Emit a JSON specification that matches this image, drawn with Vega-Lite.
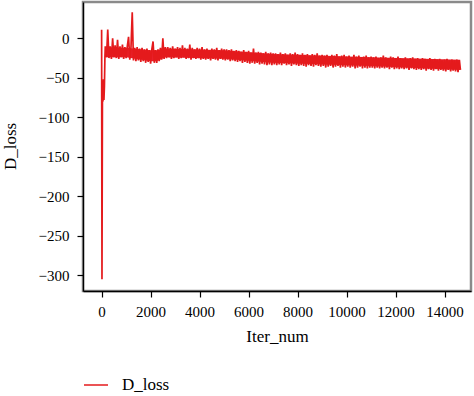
{
  "$schema": "https://vega.github.io/schema/vega-lite/v6.json",
  "autosize": "none",
  "width": 388,
  "height": 289,
  "padding": {"left": 83, "top": 2, "right": 3, "bottom": 105},
  "background": "white",
  "view": {"stroke": "#8a8a8a", "strokeWidth": 2.5, "fill": "white"},
  "config": {
    "font": "Liberation Serif",
    "view": {"stroke": "#8a8a8a", "strokeWidth": 2.5},
    "axis": {
      "grid": false,
      "domainColor": "black",
      "domainWidth": 1.3,
      "tickColor": "black",
      "tickWidth": 1.2,
      "tickSize": 6,
      "labelFont": "Liberation Serif",
      "labelFontSize": 15,
      "labelColor": "black",
      "titleFont": "Liberation Serif",
      "titleFontSize": 17,
      "titleFontWeight": "normal",
      "titleColor": "black"
    },
    "legend": {
      "labelFont": "Liberation Serif",
      "labelFontSize": 17,
      "labelColor": "black"
    }
  },
  "datasets": {
    "band": [
      {"i": 160, "lo": -24, "hi": -12},
      {"i": 1000, "lo": -24, "hi": -12},
      {"i": 2000, "lo": -29, "hi": -15},
      {"i": 2250, "lo": -29, "hi": -15},
      {"i": 2600, "lo": -24, "hi": -13},
      {"i": 5000, "lo": -26, "hi": -15},
      {"i": 7000, "lo": -31, "hi": -20},
      {"i": 11000, "lo": -35, "hi": -24},
      {"i": 14640, "lo": -40, "hi": -27}
    ],
    "loss": [
      {"i": 0, "v": 11}, {"i": 15, "v": -305}, {"i": 35, "v": -55}, {"i": 55, "v": -80}, {"i": 75, "v": -52}, {"i": 95, "v": -78}, {"i": 115, "v": -60}, {"i": 135, "v": -24},
      {"i": 150, "v": -10}, {"i": 200, "v": -24}, {"i": 250, "v": 11}, {"i": 300, "v": -25}, {"i": 350, "v": -10}, {"i": 400, "v": -26}, {"i": 450, "v": 0}, {"i": 500, "v": -24}, {"i": 550, "v": -9}, {"i": 600, "v": -25}, {"i": 650, "v": -2}, {"i": 700, "v": -26}, {"i": 750, "v": -10}, {"i": 800, "v": -24}, {"i": 850, "v": -8}, {"i": 900, "v": -26}, {"i": 950, "v": -11}, {"i": 1000, "v": -25},
      {"i": 1050, "v": -10}, {"i": 1100, "v": 2}, {"i": 1150, "v": -27}, {"i": 1200, "v": -11}, {"i": 1250, "v": 33}, {"i": 1300, "v": -28}, {"i": 1350, "v": -12}, {"i": 1400, "v": -29}, {"i": 1450, "v": -11}, {"i": 1500, "v": -28}, {"i": 1550, "v": -13}, {"i": 1600, "v": -30}, {"i": 1650, "v": -12}, {"i": 1700, "v": -29}, {"i": 1750, "v": -14}, {"i": 1800, "v": -31}, {"i": 1850, "v": -13}, {"i": 1900, "v": -30}, {"i": 1950, "v": -15}, {"i": 2000, "v": -32}, {"i": 2050, "v": -14}, {"i": 2100, "v": -4}, {"i": 2150, "v": -31}, {"i": 2200, "v": -15},
      {"i": 2250, "v": -31}, {"i": 2300, "v": -14}, {"i": 2350, "v": -29}, {"i": 2400, "v": -12}, {"i": 2450, "v": -27}, {"i": 2500, "v": 0}, {"i": 2550, "v": -26}, {"i": 2600, "v": -11},
      {"i": 2650, "v": -25}, {"i": 2700, "v": -11}, {"i": 2750, "v": -24}, {"i": 2800, "v": -12}, {"i": 2850, "v": -26}, {"i": 2900, "v": -10}, {"i": 2950, "v": -25}, {"i": 3000, "v": -13}, {"i": 3050, "v": -24}, {"i": 3100, "v": -11}, {"i": 3150, "v": -26}, {"i": 3200, "v": -12}, {"i": 3250, "v": -25}, {"i": 3300, "v": -9}, {"i": 3350, "v": -24}, {"i": 3400, "v": -12}, {"i": 3450, "v": -26}, {"i": 3500, "v": -13}, {"i": 3550, "v": -25}, {"i": 3600, "v": -8}, {"i": 3650, "v": -27}, {"i": 3700, "v": -12}, {"i": 3750, "v": -25}, {"i": 3800, "v": -14}, {"i": 3850, "v": -26}, {"i": 3900, "v": -12}, {"i": 3950, "v": -25}, {"i": 4000, "v": -13}, {"i": 4050, "v": -27}, {"i": 4100, "v": -11}, {"i": 4150, "v": -26}, {"i": 4200, "v": -14}, {"i": 4250, "v": -27}, {"i": 4300, "v": -13}, {"i": 4350, "v": -26}, {"i": 4400, "v": -15}, {"i": 4450, "v": -28}, {"i": 4500, "v": -13}, {"i": 4550, "v": -26}, {"i": 4600, "v": -14}, {"i": 4650, "v": -27}, {"i": 4700, "v": -12}, {"i": 4750, "v": -28}, {"i": 4800, "v": -15}, {"i": 4850, "v": -26}, {"i": 4900, "v": -13}, {"i": 4950, "v": -27}, {"i": 5000, "v": -14},
      {"i": 5050, "v": -28}, {"i": 5100, "v": -14}, {"i": 5150, "v": -27}, {"i": 5200, "v": -15}, {"i": 5250, "v": -29}, {"i": 5300, "v": -14}, {"i": 5350, "v": -28}, {"i": 5400, "v": -16}, {"i": 5450, "v": -29}, {"i": 5500, "v": -15}, {"i": 5550, "v": -30}, {"i": 5600, "v": -16}, {"i": 5650, "v": -29}, {"i": 5700, "v": -17}, {"i": 5750, "v": -31}, {"i": 5800, "v": -15}, {"i": 5850, "v": -30}, {"i": 5900, "v": -17}, {"i": 5950, "v": -31}, {"i": 6000, "v": -16}, {"i": 6050, "v": -32}, {"i": 6100, "v": -18}, {"i": 6150, "v": -31}, {"i": 6200, "v": -13}, {"i": 6250, "v": -32}, {"i": 6300, "v": -18}, {"i": 6350, "v": -31}, {"i": 6400, "v": -17}, {"i": 6450, "v": -33}, {"i": 6500, "v": -18}, {"i": 6550, "v": -32}, {"i": 6600, "v": -19}, {"i": 6650, "v": -33}, {"i": 6700, "v": -17}, {"i": 6750, "v": -34}, {"i": 6800, "v": -19}, {"i": 6850, "v": -33}, {"i": 6900, "v": -18}, {"i": 6950, "v": -34}, {"i": 7000, "v": -19},
      {"i": 7050, "v": -33}, {"i": 7100, "v": -19}, {"i": 7150, "v": -34}, {"i": 7200, "v": -20}, {"i": 7250, "v": -33}, {"i": 7300, "v": -18}, {"i": 7350, "v": -34}, {"i": 7400, "v": -20}, {"i": 7450, "v": -32}, {"i": 7500, "v": -19}, {"i": 7550, "v": -34}, {"i": 7600, "v": -21}, {"i": 7650, "v": -33}, {"i": 7700, "v": -19}, {"i": 7750, "v": -35}, {"i": 7800, "v": -20}, {"i": 7850, "v": -33}, {"i": 7900, "v": -18}, {"i": 7950, "v": -34}, {"i": 8000, "v": -20},
      {"i": 8050, "v": -35}, {"i": 8100, "v": -21}, {"i": 8150, "v": -34}, {"i": 8200, "v": -19}, {"i": 8250, "v": -35}, {"i": 8300, "v": -21}, {"i": 8350, "v": -36}, {"i": 8400, "v": -20}, {"i": 8450, "v": -34}, {"i": 8500, "v": -22}, {"i": 8550, "v": -35}, {"i": 8600, "v": -20}, {"i": 8650, "v": -36}, {"i": 8700, "v": -21}, {"i": 8750, "v": -34}, {"i": 8800, "v": -19}, {"i": 8850, "v": -35}, {"i": 8900, "v": -22}, {"i": 8950, "v": -36}, {"i": 9000, "v": -21},
      {"i": 9050, "v": -35}, {"i": 9100, "v": -22}, {"i": 9150, "v": -37}, {"i": 9200, "v": -21}, {"i": 9250, "v": -36}, {"i": 9300, "v": -23}, {"i": 9350, "v": -35}, {"i": 9400, "v": -21}, {"i": 9450, "v": -37}, {"i": 9500, "v": -22}, {"i": 9550, "v": -36}, {"i": 9600, "v": -20}, {"i": 9650, "v": -35}, {"i": 9700, "v": -23}, {"i": 9750, "v": -37}, {"i": 9800, "v": -22}, {"i": 9850, "v": -36}, {"i": 9900, "v": -21}, {"i": 9950, "v": -37}, {"i": 10000, "v": -23},
      {"i": 10050, "v": -36}, {"i": 10100, "v": -22}, {"i": 10150, "v": -37}, {"i": 10200, "v": -24}, {"i": 10250, "v": -36}, {"i": 10300, "v": -21}, {"i": 10350, "v": -38}, {"i": 10400, "v": -23}, {"i": 10450, "v": -37}, {"i": 10500, "v": -22}, {"i": 10550, "v": -36}, {"i": 10600, "v": -24}, {"i": 10650, "v": -38}, {"i": 10700, "v": -23}, {"i": 10750, "v": -37}, {"i": 10800, "v": -22}, {"i": 10850, "v": -38}, {"i": 10900, "v": -24}, {"i": 10950, "v": -37}, {"i": 11000, "v": -23},
      {"i": 11050, "v": -37}, {"i": 11100, "v": -24}, {"i": 11150, "v": -38}, {"i": 11200, "v": -23}, {"i": 11250, "v": -37}, {"i": 11300, "v": -25}, {"i": 11350, "v": -38}, {"i": 11400, "v": -24}, {"i": 11450, "v": -37}, {"i": 11500, "v": -22}, {"i": 11550, "v": -38}, {"i": 11600, "v": -24}, {"i": 11650, "v": -37}, {"i": 11700, "v": -25}, {"i": 11750, "v": -39}, {"i": 11800, "v": -23}, {"i": 11850, "v": -37}, {"i": 11900, "v": -24},
      {"i": 11950, "v": -39}, {"i": 12000, "v": -25}, {"i": 12050, "v": -38}, {"i": 12100, "v": -23}, {"i": 12150, "v": -39}, {"i": 12200, "v": -25}, {"i": 12250, "v": -38}, {"i": 12300, "v": -26}, {"i": 12350, "v": -39}, {"i": 12400, "v": -24}, {"i": 12450, "v": -38}, {"i": 12500, "v": -26}, {"i": 12550, "v": -40}, {"i": 12600, "v": -25}, {"i": 12650, "v": -38}, {"i": 12700, "v": -24}, {"i": 12750, "v": -39}, {"i": 12800, "v": -26},
      {"i": 12850, "v": -40}, {"i": 12900, "v": -25}, {"i": 12950, "v": -39}, {"i": 13000, "v": -27}, {"i": 13050, "v": -40}, {"i": 13100, "v": -25}, {"i": 13150, "v": -39}, {"i": 13200, "v": -26}, {"i": 13250, "v": -41}, {"i": 13300, "v": -27}, {"i": 13350, "v": -39}, {"i": 13400, "v": -25}, {"i": 13450, "v": -40}, {"i": 13500, "v": -27}, {"i": 13550, "v": -41}, {"i": 13600, "v": -26}, {"i": 13650, "v": -39}, {"i": 13700, "v": -27},
      {"i": 13750, "v": -41}, {"i": 13800, "v": -26}, {"i": 13850, "v": -40}, {"i": 13900, "v": -28}, {"i": 13950, "v": -41}, {"i": 14000, "v": -27}, {"i": 14050, "v": -42}, {"i": 14100, "v": -26}, {"i": 14150, "v": -40}, {"i": 14200, "v": -28}, {"i": 14250, "v": -42}, {"i": 14300, "v": -27}, {"i": 14350, "v": -41}, {"i": 14400, "v": -28}, {"i": 14450, "v": -42}, {"i": 14500, "v": -27}, {"i": 14550, "v": -43}, {"i": 14600, "v": -28}, {"i": 14650, "v": -40}
    ]
  },
  "encoding": {
    "x": {
      "field": "i",
      "type": "quantitative",
      "scale": {"domain": [-760, 15080], "nice": false, "zero": false},
      "axis": {
        "values": [0, 2000, 4000, 6000, 8000, 10000, 12000, 14000],
        "format": "d",
        "labelPadding": 7,
        "title": "Iter_num",
        "titleY": 50,
        "titleBaseline": "alphabetic"
      }
    }
  },
  "layer": [
    {
      "data": {"name": "band"},
      "mark": {"type": "area", "color": "#e8202a", "opacity": 1, "clip": true},
      "encoding": {
        "y": {"field": "hi", "type": "quantitative", "scale": {"domain": [-320, 46], "nice": false, "zero": false}},
        "y2": {"field": "lo"}
      }
    },
    {
      "data": {"name": "loss"},
      "mark": {"type": "line", "strokeWidth": 1.7, "clip": true},
      "encoding": {
        "y": {
          "field": "v",
          "type": "quantitative",
          "scale": {"domain": [-320, 46], "nice": false, "zero": false},
          "axis": {
            "values": [-300, -250, -200, -150, -100, -50, 0],
            "format": "d",
            "labelPadding": 8,
            "title": "D_loss",
            "titleX": -68,
            "titleY": 144,
            "titleBaseline": "alphabetic"
          }
        },
        "color": {
          "datum": "D_loss",
          "type": "nominal",
          "scale": {"range": ["#e41a1c"]},
          "legend": {
            "title": null,
            "orient": "none",
            "legendX": 0,
            "legendY": 370,
            "padding": 0,
            "symbolType": "stroke",
            "symbolSize": 576,
            "symbolStrokeWidth": 1.5,
            "labelOffset": 13
          }
        }
      }
    }
  ]
}
